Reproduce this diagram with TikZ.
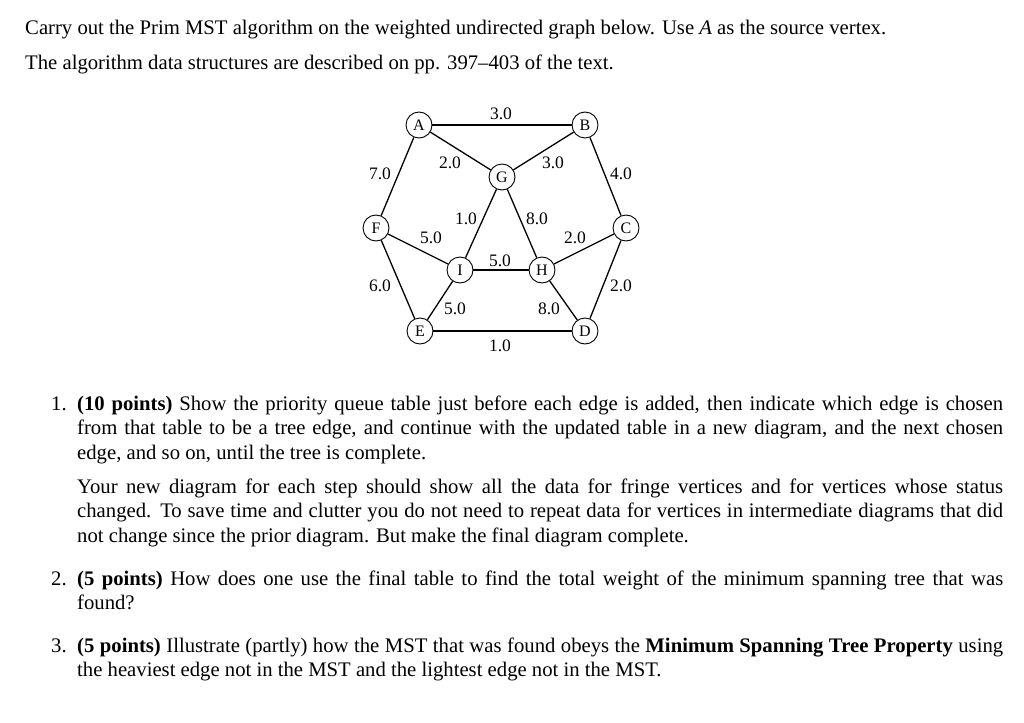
\documentclass[tikz,border=0pt]{standalone}
\usepackage{fontspec}
\setmainfont{Liberation Serif}
\begin{document}
\begin{tikzpicture}[x=1pt,y=-1pt,
  vtx/.style={circle,draw,line width=0.9pt,minimum size=26pt,inner sep=0pt,fill=white,font=\fontsize{16}{16}\selectfont},
  edge/.style={line width=1.3pt},
  wlab/.style={font=\fontsize{17.5}{17.5}\selectfont,inner sep=0pt},
  txt/.style={anchor=base west,inner sep=0pt,font=\fontsize{20.7}{24.5}\selectfont},
  para/.style={anchor=base west,inner sep=0pt,text width=926pt,align=justify,font=\fontsize{20.7}{24.5}\selectfont}]
\useasboundingbox (0,0) rectangle (1024,722);
\node[txt] (t1) at (25,35) {Carry out the Prim MST algorithm on the weighted undirected graph below. Use \textit{A} as the source vertex.};
\node[txt] (t2) at (25,70) {The algorithm data structures are described on pp. 397--403 of the text.};
% graph
\node[vtx] (A) at (419,125) {A};
\node[vtx] (B) at (585,125) {B};
\node[vtx] (G) at (502,177) {G};
\node[vtx] (F) at (376,228) {F};
\node[vtx] (C) at (626,228) {C};
\node[vtx] (I) at (460,270) {I};
\node[vtx] (H) at (542,270) {H};
\node[vtx] (E) at (420,331) {E};
\node[vtx] (D) at (585,331) {D};
\draw[edge] (A) -- (B);
\draw[edge] (A) -- (G);
\draw[edge] (B) -- (G);
\draw[edge] (A) -- (F);
\draw[edge] (B) -- (C);
\draw[edge] (G) -- (I);
\draw[edge] (G) -- (H);
\draw[edge] (F) -- (I);
\draw[edge] (C) -- (H);
\draw[edge] (I) -- (H);
\draw[edge] (F) -- (E);
\draw[edge] (C) -- (D);
\draw[edge] (I) -- (E);
\draw[edge] (H) -- (D);
\draw[edge] (E) -- (D);
\node[wlab] (wAB) at (501,114) {3.0};
\node[wlab] (wAG) at (450,163) {2.0};
\node[wlab] (wBG) at (553,163) {3.0};
\node[wlab] (wAF) at (380,174) {7.0};
\node[wlab] (wBC) at (621,174) {4.0};
\node[wlab] (wGI) at (466,219) {1.0};
\node[wlab] (wGH) at (537,219) {8.0};
\node[wlab] (wFI) at (431,238) {5.0};
\node[wlab] (wCH) at (575,238) {2.0};
\node[wlab] (wIH) at (500,261) {5.0};
\node[wlab] (wFE) at (380,286) {6.0};
\node[wlab] (wCD) at (621,286) {2.0};
\node[wlab] (wIE) at (455,309) {5.0};
\node[wlab] (wHD) at (549,309) {8.0};
\node[wlab] (wED) at (500,346) {1.0};
% list
\node[txt] (n1) at (51,410) {1.};
\node[para] (p1) at (77,410) {\textbf{(10 points)} Show the priority queue table just before each edge is added, then indicate which edge is chosen\linebreak from that table to be a tree edge, and continue with the updated table in a new diagram, and the next chosen\linebreak edge, and so on, until the tree is complete.};
\node[para] (p1b) at (77,493) {Your new diagram for each step should show all the data for fringe vertices and for vertices whose status\linebreak changed. To save time and clutter you do not need to repeat data for vertices in intermediate diagrams that did\linebreak not change since the prior diagram. But make the final diagram complete.};
\node[txt] (n2) at (51,585) {2.};
\node[para] (p2) at (77,585) {\textbf{(5 points)} How does one use the final table to find the total weight of the minimum spanning tree that was\linebreak found?};
\node[txt] (n3) at (51,652) {3.};
\node[para] (p3) at (77,652) {\textbf{(5 points)} Illustrate (partly) how the MST that was found obeys the \textbf{Minimum Spanning Tree Property} using\linebreak the heaviest edge not in the MST and the lightest edge not in the MST.};
\end{tikzpicture}
\end{document}
